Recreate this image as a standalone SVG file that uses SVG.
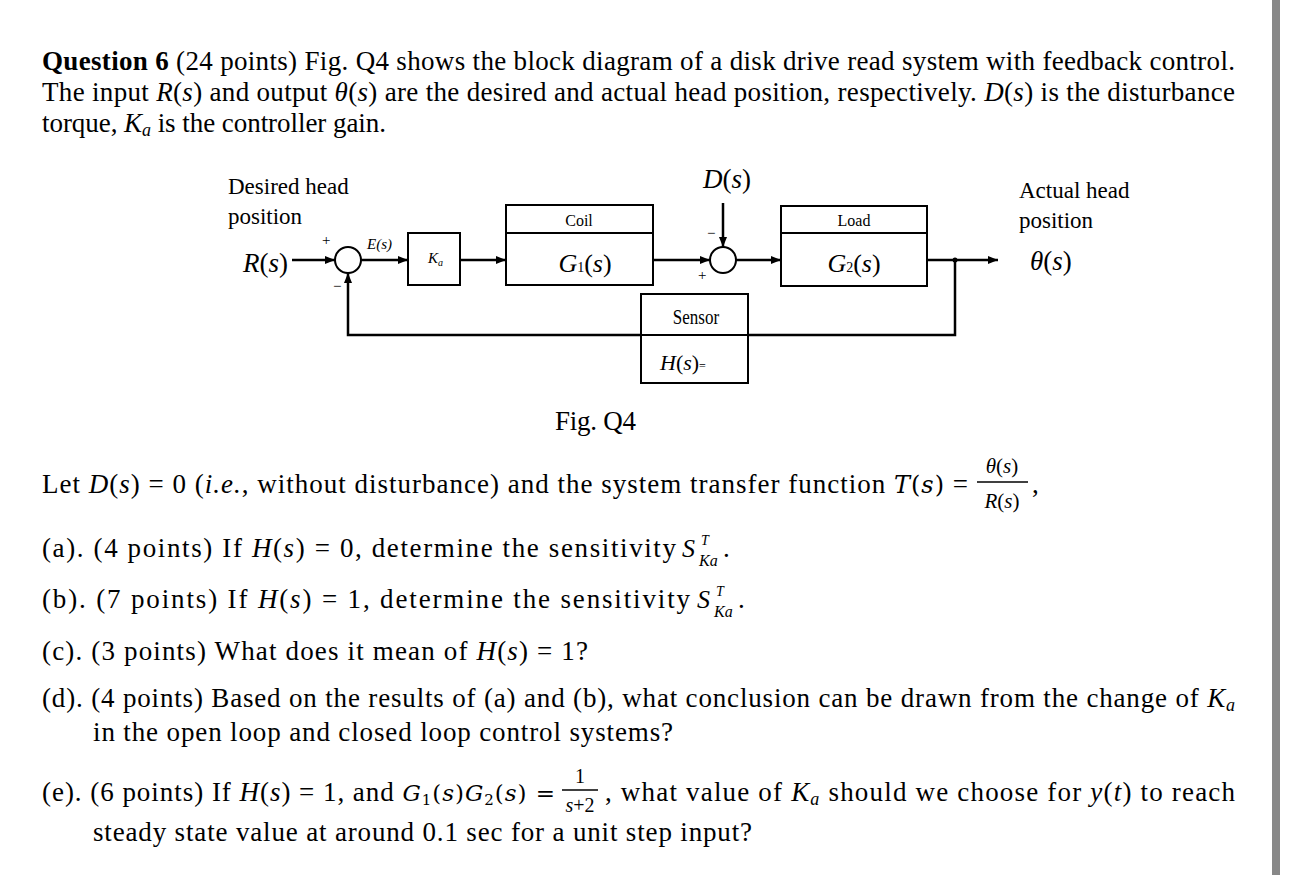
<svg xmlns="http://www.w3.org/2000/svg" width="1290" height="875" viewBox="0 0 1290 875">
<defs>
<marker id="ah" viewBox="0 0 10 10" refX="10" refY="5" markerWidth="10" markerHeight="10" markerUnits="userSpaceOnUse" orient="auto"><path d="M0,1 L10,5 L0,9 z" fill="#000"/></marker>
<style>
text{font-family:"Liberation Serif","Times New Roman",serif;fill:#000}
.q{font-size:27px}
.b{fill:#fff;stroke:#000;stroke-width:2}
.w{fill:none;stroke:#000;stroke-width:2.5}
.l{font-size:23px}
.s{font-size:15px}
.m{font-size:27px}
</style>
</defs>
<rect width="1290" height="875" fill="#fff"/>
<rect x="1272" y="0" width="8" height="875" fill="#888"/>
<text class="q" x="42" y="70" textLength="1193"><tspan font-weight="bold">Question 6</tspan> (24 points) Fig. Q4 shows the block diagram of a disk drive read system with feedback control.</text>
<text class="q" x="42" y="101" textLength="1193">The input <tspan font-style="italic">R</tspan>(<tspan font-style="italic">s</tspan>) and output <tspan font-style="italic">θ</tspan>(<tspan font-style="italic">s</tspan>) are the desired and actual head position, respectively. <tspan font-style="italic">D</tspan>(<tspan font-style="italic">s</tspan>) is the disturbance</text>
<text class="q" x="42" y="132" textLength="344">torque, <tspan font-style="italic">K<tspan font-size="18" dy="4">a</tspan></tspan><tspan dy="-4"> is the controller gain.</tspan></text>

<g id="labels">
<text class="l" x="228" y="194">Desired head</text>
<text class="l" x="228" y="224">position</text>
<text class="m" x="243" y="272"><tspan font-style="italic">R</tspan>(<tspan font-style="italic">s</tspan>)</text>
<text class="m" x="703" y="188"><tspan font-style="italic">D</tspan>(<tspan font-style="italic">s</tspan>)</text>
<text class="l" x="1019" y="198">Actual head</text>
<text class="l" x="1019" y="228">position</text>
<text class="m" x="1030" y="270"><tspan font-style="italic">θ</tspan>(<tspan font-style="italic">s</tspan>)</text>
<text class="s" x="367" y="249" font-style="italic">E(s)</text>
<text class="s" x="322" y="245">+</text>
<text class="s" x="333" y="291">−</text>
<text class="s" x="707" y="238">−</text>
<text class="s" x="698" y="280">+</text>
</g>

<g id="sum1"><circle class="b" cx="348" cy="260" r="13"/></g>
<g id="ka"><rect class="b" x="408" y="233" width="52" height="52"/><text x="428" y="263" font-size="15" font-style="italic">K<tspan font-size="10" dy="3">a</tspan></text></g>
<g id="coil"><rect class="b" x="506" y="205" width="147" height="80"/><line x1="506" y1="233" x2="653" y2="233" stroke="#000" stroke-width="2"/><text x="579" y="226" font-size="16" text-anchor="middle">Coil</text><text x="585" y="272" font-size="26" text-anchor="middle"><tspan font-style="italic">G</tspan><tspan font-size="14">1</tspan>(<tspan font-style="italic">s</tspan>)</text></g>
<g id="sum2"><circle class="b" cx="723" cy="260" r="13"/></g>
<g id="load"><rect class="b" x="781" y="206" width="146" height="80"/><line x1="781" y1="233" x2="927" y2="233" stroke="#000" stroke-width="2"/><text x="854" y="226" font-size="16" text-anchor="middle">Load</text><text x="854" y="272" font-size="26" text-anchor="middle"><tspan font-style="italic">G</tspan><tspan font-size="14">2</tspan>(<tspan font-style="italic">s</tspan>)</text></g>
<g id="sensor"><rect class="b" x="641" y="294" width="107" height="89"/><line x1="641" y1="335" x2="748" y2="335" stroke="#000" stroke-width="2"/><text x="696" y="324" font-size="20" text-anchor="middle" transform="translate(696 0) scale(0.85 1) translate(-696 0)">Sensor</text><text x="660" y="370" font-size="22"><tspan font-style="italic">H</tspan>(<tspan font-style="italic">s</tspan>)<tspan font-size="12">=</tspan></text></g>

<g id="connectors">
<line class="w" x1="292" y1="260" x2="335" y2="260" marker-end="url(#ah)"/>
<line class="w" x1="361" y1="260" x2="408" y2="260" marker-end="url(#ah)"/>
<line class="w" x1="460" y1="260" x2="506" y2="260" marker-end="url(#ah)"/>
<line class="w" x1="653" y1="260" x2="710" y2="260" marker-end="url(#ah)"/>
<line class="w" x1="723" y1="203" x2="723" y2="247" marker-end="url(#ah)"/>
<line class="w" x1="736" y1="260" x2="781" y2="260" marker-end="url(#ah)"/>
<line class="w" x1="927" y1="260" x2="998" y2="260" marker-end="url(#ah)"/>
<circle cx="955" cy="260" r="2.5" fill="#000"/>
<polyline class="w" points="955,260 955,335 748,335"/>
<polyline class="w" points="641,335 348,335 348,273" marker-end="url(#ah)"/>
</g>

<text class="q" x="555" y="430" textLength="81">Fig. Q4</text>
<text class="q" x="42" y="493" textLength="926">Let <tspan font-style="italic">D</tspan>(<tspan font-style="italic">s</tspan>) = 0 (<tspan font-style="italic">i.e.</tspan>, without disturbance) and the system transfer function <tspan font-family="DejaVu Serif" font-style="italic" font-size="24">T</tspan><tspan font-family="DejaVu Serif" font-size="24">(<tspan font-style="italic">s</tspan>)</tspan> =</text>
<text x="1002" y="473" font-size="21" font-family="DejaVu Serif" text-anchor="middle"><tspan font-style="italic">θ</tspan>(<tspan font-style="italic">s</tspan>)</text>
<line x1="977" y1="482" x2="1028" y2="482" stroke="#000" stroke-width="1.5"/>
<text x="1002" y="508" font-size="21" font-family="DejaVu Serif" text-anchor="middle"><tspan font-style="italic">R</tspan>(<tspan font-style="italic">s</tspan>)</text>
<text class="q" x="1032" y="493">,</text>

<text class="q" x="42" y="557" textLength="634">(a). (4 points) If <tspan font-style="italic">H</tspan>(<tspan font-style="italic">s</tspan>) = 0, determine the sensitivity</text>
<text x="682" y="557" font-size="26" font-family="DejaVu Serif" font-style="italic">S</text>
<text x="701" y="545" font-size="14" font-family="DejaVu Serif" font-style="italic">T</text>
<text x="699" y="566" font-size="16" font-family="DejaVu Serif" font-style="italic">Ka</text>
<text class="q" x="723" y="557">.</text>

<text class="q" x="42" y="608" textLength="648">(b). (7 points)  If <tspan font-style="italic">H</tspan>(<tspan font-style="italic">s</tspan>) = 1, determine the sensitivity</text>
<text x="697" y="608" font-size="26" font-family="DejaVu Serif" font-style="italic">S</text>
<text x="716" y="596" font-size="14" font-family="DejaVu Serif" font-style="italic">T</text>
<text x="714" y="617" font-size="16" font-family="DejaVu Serif" font-style="italic">Ka</text>
<text class="q" x="738" y="608">.</text>

<text class="q" x="42" y="660" textLength="546">(c). (3 points)  What does it mean of <tspan font-style="italic">H</tspan>(<tspan font-style="italic">s</tspan>) = 1?</text>
<text class="q" x="42" y="707" textLength="1193">(d). (4 points) Based on the results of (a) and (b), what conclusion can be drawn from the change of <tspan font-style="italic">K<tspan font-size="18" dy="4">a</tspan></tspan></text>
<text class="q" x="93" y="741" textLength="580">in the open loop and closed loop control systems?</text>
<text class="q" x="42" y="801" textLength="513">(e). (6 points) If <tspan font-style="italic">H</tspan>(<tspan font-style="italic">s</tspan>) = 1, and <tspan font-family="DejaVu Serif" font-size="23"><tspan font-style="italic">G</tspan><tspan font-size="15" dy="4">1</tspan><tspan dy="-4">(</tspan><tspan font-style="italic">s</tspan>)<tspan font-style="italic">G</tspan><tspan font-size="15" dy="4">2</tspan><tspan dy="-4">(</tspan><tspan font-style="italic">s</tspan>) =</tspan></text>
<text x="580" y="783" font-size="20" font-family="DejaVu Serif" text-anchor="middle">1</text>
<line x1="562" y1="790" x2="598" y2="790" stroke="#000" stroke-width="1.5"/>
<text x="580" y="812" font-size="20" font-family="DejaVu Serif" text-anchor="middle"><tspan font-style="italic">s</tspan>+2</text>
<text class="q" x="605" y="801" textLength="630">, what value of <tspan font-style="italic">K<tspan font-size="18" dy="4">a</tspan></tspan><tspan dy="-4"> should we choose for </tspan><tspan font-style="italic">y</tspan>(<tspan font-style="italic">t</tspan>) to reach</text>
<text class="q" x="93" y="841" textLength="659">steady state value at around 0.1 sec for a unit step input?</text>
</svg>
